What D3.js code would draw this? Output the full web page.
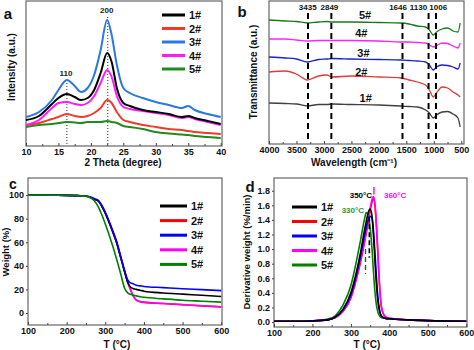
<!DOCTYPE html>
<html>
<head>
<meta charset="utf-8">
<script src="https://cdn.jsdelivr.net/npm/d3@7"></script>
<style>
  body { margin: 0; background: #fff; }
  text { font-family: "Liberation Sans", Arial, sans-serif; font-weight: bold; }
</style>
</head>
<body>
<div id="fig"></div>
<script>
const samples = ["1#", "2#", "3#", "4#", "5#"];

// panel a: XRD
const xrdTheta = [10, 12, 14, 15, 16.3, 17.5, 18.5, 19.5, 20.5, 21.5, 22.5, 23.2, 24, 25, 26, 28, 30, 32, 34, 35, 36, 38, 40];
const xrd1 = [26, 30, 42, 48, 52, 49, 46, 48, 56, 73, 93, 84, 58, 43, 40, 36, 34, 32, 29, 30, 28, 25, 22];
const xrd2 = [21, 23, 27, 29, 32, 30, 29, 30, 33, 38, 46, 43, 34, 26, 24, 21, 19, 17, 16, 15, 14, 13, 12];
const xrd3 = [29, 34, 46, 56, 66, 60, 54, 58, 71, 96, 126, 111, 81, 58, 53, 48, 44, 41, 38, 40, 36, 32, 29];
const xrd4 = [21, 26, 38, 43, 44, 42, 41, 43, 50, 63, 76, 69, 50, 39, 37, 35, 33, 31, 28, 29, 27, 24, 21];
const xrd5 = [19, 21, 22, 23, 24, 23.5, 23, 24, 24, 24, 25, 24, 23, 20, 19, 17, 14, 12.5, 11.5, 11, 10, 9, 8];
const xrdTicks = [10, 15, 20, 25, 30, 35, 40];
const xrdPeaks = [16.3, 22.6];
const xrdPeakLabels = ["110", "200"];
const xrdPeakTop = [66, 129];

// panel b: FTIR
const irWave = [4000, 3700, 3500, 3300, 3100, 2950, 2850, 2500, 2000, 1600, 1450, 1300, 1150, 1080, 1010, 950, 850, 750, 650, 560, 520];
const ir1 = [41, 40.5, 40, 38, 39.5, 39.5, 40, 39.5, 39, 38, 37.5, 37, 34, 31, 26, 29, 32, 32.5, 30, 26, 17];
const ir2 = [72, 73, 70, 64, 68, 69, 67, 68, 67, 66, 64, 62, 59, 54, 47, 51, 57, 56, 52, 49, 47];
const ir3 = [87, 86, 85, 82, 84.5, 85, 85.5, 85, 84.5, 84, 83.5, 83, 82, 79, 74, 77, 79, 78.5, 77, 75, 81];
const ir4 = [105, 105, 104, 103, 103.5, 103.5, 103.5, 103.5, 103, 102, 102, 101.5, 101, 99, 97, 98.5, 101, 100.5, 98, 96, 101];
const ir5 = [124, 123, 122.5, 121, 122, 122.5, 122, 122, 121.5, 121, 120, 118, 117, 114, 109, 112, 115, 116, 113, 112, 121];
const irTicks = [4000, 3500, 3000, 2500, 2000, 1500, 1000, 500];
const irBands = [3290, 2865, 1570, 1095, 960];
const irBandLabels = ["3435", "2849", "1646", "1130", "1006"];
const irBandLabelPos = [3295, 2900, 1650, 1280, 920];
const irSampleLabelPos = [46, 72, 91, 111, 129]; // a.u. level of the "n#" labels
const irSampleLabelWave = [2240, 2320, 2280, 2320, 2250];

// panel c: TGA
const tgaT = [100, 200, 250, 262, 272, 282, 295, 306, 318, 329, 340, 350, 358, 365, 370, 380, 390, 400, 450, 500, 550, 600];
const tga1 = [100, 99.8, 99, 98, 96.5, 95, 88, 80, 70, 60, 47, 35, 26, 22, 21, 20, 19.3, 18.5, 17, 16, 15, 14];
const tga2 = [100, 99.8, 99, 98, 96.5, 95, 88, 80, 70, 60, 47, 35, 26, 20, 16, 11, 9.6, 9, 8, 7, 6, 5.2];
const tga3 = [100, 99.8, 99.2, 98.3, 97, 95.5, 89, 81, 71, 61, 48, 36, 28, 25.5, 25, 23.5, 23, 22.5, 21.5, 20.5, 19.8, 19];
const tga4 = [100, 99.8, 99, 98, 96.5, 95, 88, 80, 70, 60, 47, 35, 26, 20, 16, 11, 9.8, 9.2, 8.1, 7.1, 6.1, 5.3];
const tga5 = [100, 99.8, 99, 97.5, 95, 90, 80, 70, 58, 46, 33, 21, 17, 15.8, 15.3, 14.5, 13.8, 13.3, 12, 10.8, 10, 9.2];
const tTicks = [100, 200, 300, 400, 500, 600];
const weightTicks = [0, 20, 40, 60, 80, 100];

// panel d: DTG
const dtgT = [100, 150, 200, 240, 260, 280, 300, 315, 325, 335, 340, 345, 350, 355, 358, 362, 366, 370, 375, 380, 390, 400, 450, 500, 600];
const dtg1 = [0.01, 0.01, 0.015, 0.03, 0.07, 0.18, 0.4, 0.7, 0.95, 1.25, 1.38, 1.5, 1.55, 1.45, 1.25, 0.9, 0.55, 0.3, 0.14, 0.08, 0.05, 0.045, 0.03, 0.02, 0.01];
const dtg2 = [0.01, 0.01, 0.015, 0.03, 0.06, 0.15, 0.33, 0.6, 0.82, 1.08, 1.22, 1.36, 1.52, 1.65, 1.7, 1.62, 1.35, 0.95, 0.45, 0.18, 0.07, 0.05, 0.03, 0.02, 0.01];
const dtg3 = [0.01, 0.01, 0.015, 0.03, 0.07, 0.17, 0.37, 0.66, 0.9, 1.18, 1.3, 1.4, 1.45, 1.42, 1.3, 1.0, 0.65, 0.35, 0.15, 0.08, 0.05, 0.045, 0.03, 0.02, 0.01];
const dtg4 = [0.01, 0.01, 0.015, 0.03, 0.06, 0.15, 0.34, 0.62, 0.85, 1.1, 1.25, 1.4, 1.56, 1.68, 1.72, 1.65, 1.38, 0.98, 0.48, 0.2, 0.07, 0.05, 0.03, 0.02, 0.01];
const dtg5 = [0.01, 0.01, 0.015, 0.04, 0.09, 0.24, 0.5, 0.85, 1.12, 1.4, 1.5, 1.47, 1.3, 1.0, 0.75, 0.45, 0.25, 0.14, 0.08, 0.06, 0.05, 0.045, 0.03, 0.02, 0.01];
const dtgTicks = [0, 0.2, 0.4, 0.6, 0.8, 1.0, 1.2, 1.4, 1.6, 1.8];
const dtgPeakLabels = ["350°C", "360°C", "330°C"];

const colorsA = ["#000000", "#f03a2a", "#2a78e0", "#ff1aff", "#1f8a1f"];
const colorsB = ["#404040", "#e03a3a", "#1a22cc", "#ff22ff", "#1a7a1a"];
const colorsC = ["#000000", "#ff0000", "#0000ff", "#ff00ff", "#008000"];

const svg = d3.select("#fig").append("svg")
  .attr("width", 474)
  .attr("height", 350);

function panel(box, xDomain, yDomain) {
  const g = svg.append("g");
  const x = d3.scaleLinear().domain(xDomain).range([box.left, box.right]);
  const y = d3.scaleLinear().domain(yDomain).range([box.bottom, box.top]);
  g.append("rect")
    .attr("x", box.left).attr("y", box.top)
    .attr("width", box.right - box.left).attr("height", box.bottom - box.top)
    .attr("fill", "none").attr("stroke", "#666").attr("stroke-width", 1.2);
  return { g, x, y };
}

function xAxis(p, ticks, minor, fmt) {
  const bottom = p.y.range()[0];
  p.g.append("g")
    .attr("transform", `translate(0,${bottom})`)
    .call(d3.axisTop(p.x).tickValues(minor).tickSize(2).tickFormat(""))
    .call(a => a.select(".domain").remove())
    .selectAll("line").attr("stroke", "#444");
  const ax = p.g.append("g")
    .attr("transform", `translate(0,${bottom})`)
    .call(d3.axisBottom(p.x).tickValues(ticks).tickSize(0).tickPadding(3).tickFormat(fmt || d3.format("d")));
  ax.select(".domain").remove();
  ax.selectAll("text").attr("font-size", 9).attr("fill", "#111")
    .style("font-family", "'Liberation Sans', Arial, sans-serif").style("font-weight", "bold");
  p.g.append("g")
    .attr("transform", `translate(0,${bottom})`)
    .call(d3.axisTop(p.x).tickValues(ticks).tickSize(3).tickFormat(""))
    .call(a => a.select(".domain").remove())
    .selectAll("line").attr("stroke", "#444");
}

function yAxis(p, ticks, fmt) {
  const left = p.x.range()[0];
  const ax = p.g.append("g")
    .attr("transform", `translate(${left},0)`)
    .call(d3.axisLeft(p.y).tickValues(ticks).tickSize(2).tickPadding(2).tickFormat(fmt));
  ax.select(".domain").remove();
  ax.selectAll("line").attr("stroke", "#444");
  ax.selectAll("text").attr("font-size", 9).attr("fill", "#111")
    .style("font-family", "'Liberation Sans', Arial, sans-serif").style("font-weight", "bold");
}

function drawLines(p, xs, series, colors, width) {
  const line = d3.line()
    .x((d, i) => p.x(xs[i]))
    .y(d => p.y(d))
    .curve(d3.curveMonotoneX);
  series.forEach(s => {
    p.g.append("path")
      .datum(s.values)
      .attr("fill", "none")
      .attr("stroke", colors[s.idx])
      .attr("stroke-width", width)
      .attr("stroke-linejoin", "round")
      .attr("d", line);
  });
}

function legend(p, x0, x1, y0, step, colors) {
  samples.forEach((s, i) => {
    const yy = y0 + i * step;
    p.g.append("line")
      .attr("x1", x0).attr("x2", x1).attr("y1", yy).attr("y2", yy)
      .attr("stroke", colors[i]).attr("stroke-width", 3);
    p.g.append("text")
      .attr("x", x1 + 4).attr("y", yy + 4)
      .attr("font-size", 11).attr("fill", "#111")
      .text(s);
  });
}

function label(txt, x, y, size, rotate) {
  const t = svg.append("text")
    .attr("font-size", size).attr("fill", "#111")
    .attr("text-anchor", "middle")
    .text(txt);
  if (rotate) t.attr("transform", `translate(${x},${y}) rotate(-90)`);
  else t.attr("x", x).attr("y", y);
  return t;
}

// ---------- panel a ----------
const pa = panel({ left: 26, right: 222, top: 1, bottom: 146 }, [10, 40.2], [0, 145]);
xAxis(pa, xrdTicks, d3.range(12.5, 40, 5));
xrdPeaks.forEach((t, i) => {
  pa.g.append("line")
    .attr("x1", pa.x(t)).attr("x2", pa.x(t))
    .attr("y1", pa.y(xrdPeakTop[i])).attr("y2", pa.y(0))
    .attr("stroke", "#333").attr("stroke-width", 1)
    .attr("stroke-dasharray", "1,2");
  pa.g.append("text")
    .attr("x", pa.x(t) - 1).attr("y", pa.y(xrdPeakTop[i]) - 4)
    .attr("text-anchor", "middle").attr("font-size", 8).attr("fill", "#222")
    .text(xrdPeakLabels[i]);
});
drawLines(pa, xrdTheta, [
  { idx: 4, values: xrd5 }, { idx: 1, values: xrd2 }, { idx: 3, values: xrd4 },
  { idx: 0, values: xrd1 }, { idx: 2, values: xrd3 }
], colorsA, 2);
legend(pa, 162, 185, 15, 13.5, colorsA);
label("Intensity (a.u.)", 15, 67, 10, true);
label("2 Theta (degree)", 123, 166, 10);
label("a", 8, 19, 15);

// ---------- panel b ----------
const pb = panel({ left: 269, right: 464, top: 1, bottom: 144 }, [4000, 450], [0, 143]);
xAxis(pb, irTicks, d3.range(3750, 500, -500));
drawLines(pb, irWave, [
  { idx: 0, values: ir1 }, { idx: 1, values: ir2 }, { idx: 2, values: ir3 },
  { idx: 3, values: ir4 }, { idx: 4, values: ir5 }
], colorsB, 1.3);
irBands.forEach((w, i) => {
  pb.g.append("line")
    .attr("x1", pb.x(w)).attr("x2", pb.x(w))
    .attr("y1", 13).attr("y2", pb.y(1))
    .attr("stroke", "#000").attr("stroke-width", 2)
    .attr("stroke-dasharray", "6,4");
  pb.g.append("text")
    .attr("x", pb.x(irBandLabelPos[i])).attr("y", 10)
    .attr("text-anchor", "middle").attr("font-size", 8).attr("fill", "#111")
    .text(irBandLabels[i]);
});
samples.forEach((s, i) => {
  pb.g.append("text")
    .attr("x", pb.x(irSampleLabelWave[i])).attr("y", pb.y(irSampleLabelPos[i]) + 4)
    .attr("text-anchor", "middle").attr("font-size", 11).attr("fill", "#111")
    .text(s);
});
label("Transmittance (a.u.)", 257, 72, 10, true);
label("Wavelength (cm⁻¹)", 354, 166, 10);
label("b", 242, 17, 15);

// ---------- panel c ----------
const pc = panel({ left: 28, right: 222, top: 178, bottom: 325 }, [100, 602], [-10.2, 114.5]);
xAxis(pc, tTicks, d3.range(150, 600, 100));
yAxis(pc, weightTicks, d3.format("d"));
drawLines(pc, tgaT, [
  { idx: 1, values: tga2 }, { idx: 3, values: tga4 }, { idx: 0, values: tga1 },
  { idx: 2, values: tga3 }, { idx: 4, values: tga5 }
], colorsC, 1.6);
legend(pc, 160, 187, 206, 14.6, colorsC);
label("Weight (%)", 9, 252, 9.5, true);
label("T (°C)", 117, 348, 10);
label("c", 13, 189, 14);

// ---------- panel d ----------
const pd = panel({ left: 274, right: 467, top: 178, bottom: 327 }, [100, 602], [-0.068, 1.975]);
xAxis(pd, tTicks, d3.range(150, 600, 100));
yAxis(pd, dtgTicks, d3.format(".1f"));
drawLines(pd, dtgT, [
  { idx: 4, values: dtg5 }, { idx: 1, values: dtg2 }, { idx: 3, values: dtg4 },
  { idx: 2, values: dtg3 }, { idx: 0, values: dtg1 }
], colorsC, 1.6);
pd.g.append("line")
  .attr("x1", pd.x(348)).attr("x2", pd.x(348)).attr("y1", pd.y(1.45)).attr("y2", pd.y(0.88))
  .attr("stroke", "#000").attr("stroke-width", 1.6).attr("stroke-dasharray", "5,3");
pd.g.append("line")
  .attr("x1", pd.x(338)).attr("x2", pd.x(338)).attr("y1", pd.y(1.0)).attr("y2", pd.y(0.66))
  .attr("stroke", colorsC[4]).attr("stroke-width", 1.4).attr("stroke-dasharray", "5,3");
pd.g.append("line")
  .attr("x1", pd.x(360)).attr("x2", pd.x(360)).attr("y1", pd.y(1.85)).attr("y2", pd.y(1.75))
  .attr("stroke", colorsC[3]).attr("stroke-width", 1.4);
pd.g.append("text").attr("x", pd.x(355)).attr("y", pd.y(1.7)).attr("text-anchor", "end")
  .attr("font-size", 8).attr("fill", "#000").text(dtgPeakLabels[0]);
pd.g.append("text").attr("x", pd.x(386)).attr("y", pd.y(1.7)).attr("text-anchor", "start")
  .attr("font-size", 8).attr("fill", colorsC[3]).text(dtgPeakLabels[1]);
pd.g.append("text").attr("x", pd.x(334)).attr("y", pd.y(1.5)).attr("text-anchor", "end")
  .attr("font-size", 8).attr("fill", "#1a9a3a").text(dtgPeakLabels[2]);
legend(pd, 292, 317, 207, 14.5, colorsC);
label("Derivative weight (%/min)", 250, 252, 9.5, true);
label("T (°C)", 367, 348, 10);
label("d", 250, 192, 15);
</script>
</body>
</html>
